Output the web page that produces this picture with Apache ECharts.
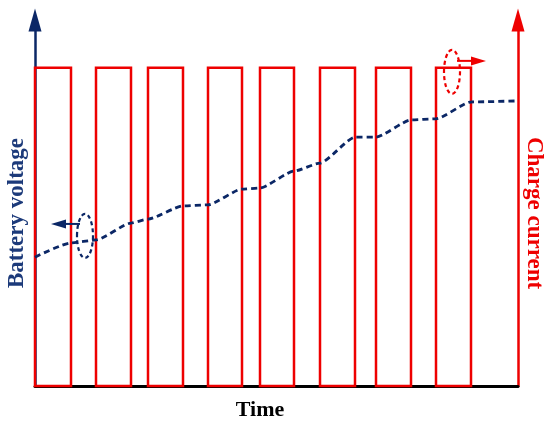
<!DOCTYPE html>
<html><head><meta charset="utf-8">
<script src="https://cdn.jsdelivr.net/npm/echarts@6/dist/echarts.min.js"></script>
<style>html,body{margin:0;padding:0;background:#fff}#c{width:550px;height:426px}</style>
</head><body><div id="c"></div>
<script>
// Data (arbitrary time units, normalized values)
const pulseStart = [0, 61, 113, 173, 225, 285, 341, 401];
const pulseEnd   = [36, 96, 148, 207, 259, 320, 376, 436];
const pulseLevel = 1;
const voltTime  = [0, 36, 61, 96, 113, 148, 173, 207, 225, 259, 285, 320, 341, 376, 401, 436, 483];
const voltValue = [0.352, 0.391, 0.399, 0.445, 0.456, 0.492, 0.495, 0.538, 0.541, 0.587, 0.609, 0.680, 0.680, 0.727, 0.730, 0.776, 0.779];
const voltAnnot = [50, 0.41];     // ellipse on the voltage curve (points left)
const currAnnot = [417, 0.987];   // ellipse on the current pulse (points right)
const timeMax = 483, voltMax = 1, currMax = 1.15;
const xName = 'Time', leftName = 'Battery voltage', rightName = 'Charge current';

const RED = '#ee0000', NAVY = '#0b2766', NAVY_TXT = '#1c3a7a';

const chart = echarts.init(document.getElementById('c'), null, {renderer: 'canvas'});

function annotRender(color, dir) {
  return function (params, api) {
    const c = api.coord([api.value(0), api.value(1)]);
    const dy = dir < 0 ? -12 : -11;
    const children = [
      {type: 'ellipse', shape: {cx: c[0], cy: c[1], rx: 8, ry: 22},
       style: {fill: 'none', stroke: color, lineWidth: 2.2, lineDash: [4, 3]}},
      {type: 'line', shape: {x1: c[0] + dir * 5, y1: c[1] + dy, x2: c[0] + dir * 20, y2: c[1] + dy},
       style: {stroke: color, lineWidth: 2}},
      {type: 'polygon', shape: {points: [[c[0] + dir * 34, c[1] + dy], [c[0] + dir * 19, c[1] + dy - 4.5], [c[0] + dir * 19, c[1] + dy + 4.5]]},
       style: {fill: color}}
    ];
    return {type: 'group', children: children};
  };
}

const option = {
  animation: false,
  backgroundColor: '#fff',
  grid: {left: 35, right: 32, top: 20, bottom: 40, containLabel: false, outerBoundsMode: 'none'},
  xAxis: {
    type: 'value', min: 0, max: timeMax,
    axisLine: {show: true, onZero: false, lineStyle: {color: '#000', width: 3}},
    axisTick: {show: false}, axisLabel: {show: false}, splitLine: {show: false}
  },
  yAxis: [
    {type: 'value', min: 0, max: voltMax, position: 'left',
     axisLine: {show: true, onZero: false, symbol: ['none', 'triangle'], symbolSize: [13, 23], lineStyle: {color: NAVY, width: 2.5}},
     axisTick: {show: false}, axisLabel: {show: false}, splitLine: {show: false}},
    {type: 'value', min: 0, max: currMax, position: 'right',
     axisLine: {show: true, onZero: false, symbol: ['none', 'triangle'], symbolSize: [13, 23], lineStyle: {color: RED, width: 2.5}},
     axisTick: {show: false}, axisLabel: {show: false}, splitLine: {show: false}}
  ],
  series: [
    {
      type: 'custom', yAxisIndex: 1, z: 3,
      data: pulseStart.map((s, i) => [s, pulseEnd[i], pulseLevel]),
      renderItem: function (params, api) {
        const p0 = api.coord([api.value(0), api.value(2)]);
        const p1 = api.coord([api.value(1), 0]);
        return {type: 'rect', shape: {x: p0[0], y: p0[1], width: p1[0] - p0[0], height: p1[1] - p0[1]},
                style: {fill: 'none', stroke: RED, lineWidth: 2.5}};
      }
    },
    {
      type: 'line', yAxisIndex: 0, z: 4, showSymbol: false, smooth: 0.2, smoothMonotone: 'x',
      data: voltTime.map((t, i) => [t, voltValue[i]]),
      lineStyle: {color: NAVY, width: 2.8, type: [6, 4]}
    },
    {type: 'custom', yAxisIndex: 0, z: 5, data: [voltAnnot], renderItem: annotRender(NAVY, -1)},
    {type: 'custom', yAxisIndex: 1, z: 5, data: [currAnnot], renderItem: annotRender(RED, 1)}
  ],
  graphic: [
    {type: 'text', x: 260, y: 410, style: {text: xName, font: 'bold 22px "Liberation Serif", "Times New Roman", serif', fill: '#000', align: 'center', verticalAlign: 'middle'}},
    {type: 'text', x: 17, y: 213, rotation: Math.PI / 2, style: {text: leftName, font: 'bold 23px "Liberation Serif", "Times New Roman", serif', fill: NAVY_TXT, align: 'center', verticalAlign: 'middle'}},
    {type: 'text', x: 534, y: 213, rotation: -Math.PI / 2, style: {text: rightName, font: 'bold 23px "Liberation Serif", "Times New Roman", serif', fill: RED, align: 'center', verticalAlign: 'middle'}}
  ]
};
chart.setOption(option);
</script>
</body></html>
